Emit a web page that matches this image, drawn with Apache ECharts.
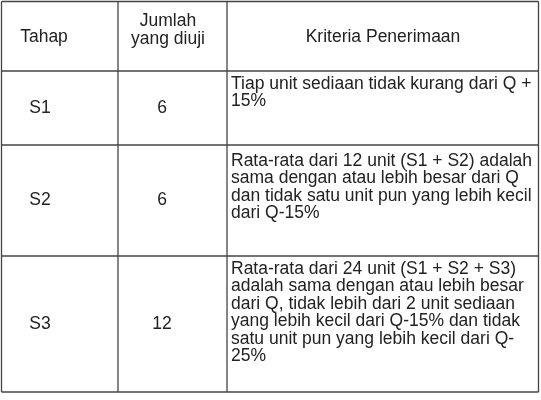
<!DOCTYPE html>
<html>
<head>
<meta charset="UTF-8">
<script src="https://cdn.jsdelivr.net/npm/echarts@6/dist/echarts.min.js"></script>
<style>html,body{margin:0;padding:0;background:#fff}#app{width:541px;height:400px}</style>
</head>
<body>
<div id="app"></div>
<script>
let headers = ['Tahap', 'Jumlah\nyang diuji', 'Kriteria Penerimaan']
let stages = ['S1', 'S2', 'S3']
let counts = ['6', '6', '12']
let criteria = [
    'Tiap unit sediaan tidak kurang dari Q +\n15%',
    'Rata-rata dari 12 unit (S1 + S2) adalah\nsama dengan atau lebih besar dari Q\ndan tidak satu unit pun yang lebih kecil\ndari Q-15%',
    'Rata-rata dari 24 unit (S1 + S2 + S3)\nadalah sama dengan atau lebih besar\ndari Q, tidak lebih dari 2 unit sediaan\nyang lebih kecil dari Q-15% dan tidak\nsatu unit pun yang lebih kecil dari Q-\n25%'
]

let colX = [1.5, 118, 227, 538.5]
let rowY = [1.5, 71, 145, 256, 392]
let font = '17.5px "Liberation Sans", Arial, sans-serif'
let els = []
let line = (x1, y1, x2, y2) => els.push({ type: 'line', shape: { x1, y1, x2, y2 }, style: { stroke: '#444', lineWidth: 1.3 } })
colX.forEach(x => line(x, rowY[0], x, rowY[4]))
rowY.forEach(y => line(colX[0], y, colX[3], y))
let text = (x, y, t, align, vAlign) => els.push({ type: 'text', x, y, style: { text: t, font, fill: '#222', align, verticalAlign: vAlign, lineHeight: 17.5 } })

text(44, 37, headers[0], 'center', 'middle')
text(168, 30, headers[1], 'center', 'middle')
text(383, 37, headers[2], 'center', 'middle')
stages.forEach((s, i) => {
    let yc = (rowY[i + 1] + rowY[i + 2]) / 2
    text(40, yc, s, 'center', 'middle')
    text(162, yc, counts[i], 'center', 'middle')
    text(231, rowY[i + 1] + (i === 1 ? 7 : 4), criteria[i], 'left', 'top')
})

let mCharts = echarts.init(document.getElementById('app'))
mCharts.setOption({ animation: false, graphic: { elements: els } })
</script>
</body>
</html>
